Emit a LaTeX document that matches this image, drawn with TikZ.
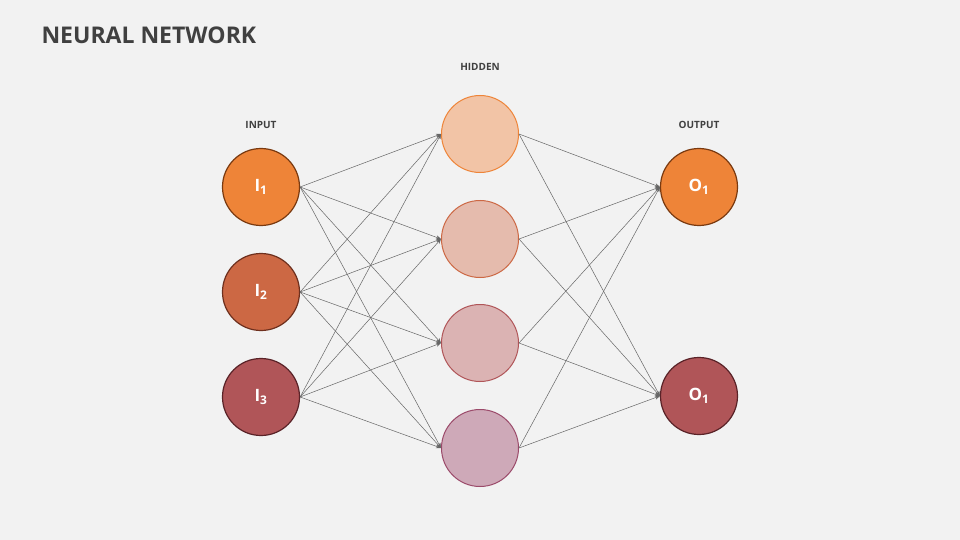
\documentclass[tikz,border=0pt]{standalone}
\usepackage{fontspec}
\setmainfont{Open Sans}
\usetikzlibrary{arrows.meta}
\definecolor{bg}{HTML}{F2F2F2}
\definecolor{tx}{HTML}{404040}
\begin{document}
\begin{tikzpicture}[x=1pt,y=-1pt,
 neuron/.style={circle,minimum size=77pt,inner sep=0pt,line width=1.2pt,font=\bfseries\fontsize{17}{17}\selectfont,text=white},
 hid/.style={circle,minimum size=77pt,inner sep=0pt,line width=1pt},
 conn/.style={draw=black!60,line width=0.5pt,-{Stealth[length=5pt,width=4pt]}},
 lab/.style={font=\bfseries\fontsize{10}{10}\selectfont,text=tx}]
\fill[bg] (0,0) rectangle (960,540);
\node[anchor=west,font=\bfseries\fontsize{23}{23}\selectfont,text=tx] (title) at (38,35) {NEURAL NETWORK};
\node[lab] (li) at (261,125) {INPUT};
\node[lab] (lh) at (480,67) {HIDDEN};
\node[lab] (lo) at (699,125) {OUTPUT};
\node[neuron,fill={rgb,255:red,238;green,132;blue,56},draw={rgb,255:red,122;green,58;blue,16}] (i1) at (261,187) {I\textsubscript{1}};
\node[neuron,fill={rgb,255:red,204;green,104;blue,68},draw={rgb,255:red,110;green,48;blue,30}] (i2) at (261,292) {I\textsubscript{2}};
\node[neuron,fill={rgb,255:red,176;green,85;blue,88},draw={rgb,255:red,90;green,35;blue,40}] (i3) at (261,397) {I\textsubscript{3}};
\node[hid,fill={rgb,255:red,242;green,196;blue,166},draw={rgb,255:red,238;green,132;blue,56}] (h1) at (480,134) {};
\node[hid,fill={rgb,255:red,229;green,187;blue,173},draw={rgb,255:red,204;green,104;blue,68}] (h2) at (480,239) {};
\node[hid,fill={rgb,255:red,219;green,179;blue,179},draw={rgb,255:red,176;green,85;blue,88}] (h3) at (480,343) {};
\node[hid,fill={rgb,255:red,206;green,169;blue,184},draw={rgb,255:red,155;green,74;blue,106}] (h4) at (480,448) {};
\node[neuron,fill={rgb,255:red,238;green,132;blue,56},draw={rgb,255:red,122;green,58;blue,16}] (o1) at (699,187) {O\textsubscript{1}};
\node[neuron,fill={rgb,255:red,176;green,85;blue,88},draw={rgb,255:red,90;green,35;blue,40}] (o2) at (699,396) {O\textsubscript{1}};
\foreach \i in {i1,i2,i3}{\foreach \h in {h1,h2,h3,h4}{\draw[conn] (\i.east) -- (\h.west);}}
\foreach \h in {h1,h2,h3,h4}{\foreach \o in {o1,o2}{\draw[conn] (\h.east) -- (\o.west);}}
\end{tikzpicture}
\end{document}
